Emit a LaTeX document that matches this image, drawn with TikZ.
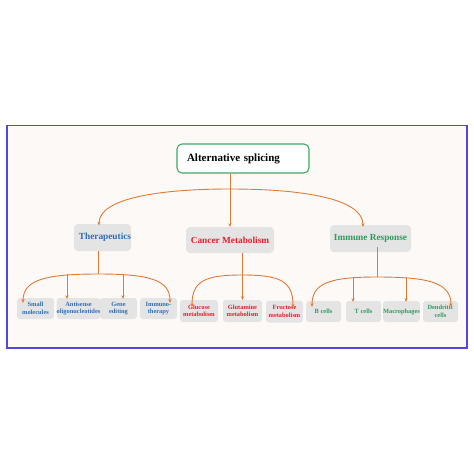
\documentclass[tikz,border=0pt]{standalone}
\usepackage{fontspec}
\setmainfont{Liberation Serif}
\usetikzlibrary{arrows.meta}
\definecolor{frameblue}{HTML}{5548D8}
\definecolor{bgcream}{HTML}{FDF9F7}
\definecolor{arrorange}{HTML}{E07A35}
\definecolor{boxgray}{HTML}{E4E4E4}
\definecolor{rootgreen}{HTML}{3DAA66}
\definecolor{txtblue}{HTML}{2E6DB4}
\definecolor{txtred}{HTML}{E3202B}
\definecolor{txtgreen}{HTML}{2A9D5C}
\tikzset{
  rootbox/.style={draw=rootgreen, line width=1.1pt, fill=white, rounded corners=5pt,
    minimum width=132pt, minimum height=29pt, text width=112pt, align=left,
    inner xsep=10pt, inner ysep=0pt, font=\bfseries\fontsize{11}{13}\selectfont},
  midbox/.style={fill=boxgray, rounded corners=4pt, inner sep=0pt,
    font=\bfseries\fontsize{9.3}{11}\selectfont},
  leafbox/.style={fill=boxgray, rounded corners=3pt, inner sep=0pt,
    minimum height=21pt, align=center,
    font=\bfseries\fontsize{6.4}{7.6}\selectfont},
  conn/.style={draw=arrorange, line width=0.9pt},
  arr/.style={conn, -{Stealth[length=3.5pt,width=3.2pt]}},
}
\begin{document}
\begin{tikzpicture}[x=1pt,y=-1pt]
\useasboundingbox (0,0) rectangle (474,474);
\fill[white] (0,0) rectangle (474,474);
\draw[frameblue, line width=1.6pt, fill=bgcream] (7,125.5) rectangle (467,348);

% root
\node[rootbox] (root) at (243,158.5) {Alternative splicing};

% level 2
\node[midbox, minimum width=57pt, minimum height=27pt, text=txtblue] (th) at (102.5,237.5) {\hspace*{5pt}Therapeutics};
\node[midbox, minimum width=88pt, minimum height=26pt, text=txtred] (cm) at (230,240) {Cancer Metabolism};
\node[midbox, minimum width=81pt, minimum height=27pt, text=txtgreen] (ir) at (370.5,238.5) {Immune Response};

% level 3: therapeutics
\node[leafbox, minimum width=37pt, text=txtblue] (sm) at (35.5,308.5) {Small\\molecules};
\node[leafbox, minimum width=37pt, text=txtblue] (ao) at (78.5,308.5) {Antisense\\oligonucleotides};
\node[leafbox, minimum width=37pt, text=txtblue] (ge) at (118.5,308.5) {Gene\\editing};
\node[leafbox, minimum width=37pt, text=txtblue] (imt) at (158.5,308.5) {Immuno-\\therapy};

% level 3: cancer metabolism
\node[leafbox, minimum width=38pt, minimum height=22pt, text=txtred] (gl) at (199,311) {Glucose\\metabolism};
\node[leafbox, minimum width=39pt, minimum height=22pt, text=txtred] (gn) at (242.5,311) {Glutamine\\metabolism};
\node[leafbox, minimum width=37pt, minimum height=22pt, text=txtred] (fr) at (284.5,311.5) {Fructose\\metabolism};

% level 3: immune response
\node[leafbox, minimum width=35pt, text=txtgreen] (bc) at (323.5,311.5) {B cells};
\node[leafbox, minimum width=35pt, text=txtgreen] (tc) at (363.5,311.5) {T cells};
\node[leafbox, minimum width=35pt, text=txtgreen] (mac) at (401.5,311.5) {Macrophages};
\node[leafbox, minimum width=35pt, text=txtgreen] (dc) at (440.5,311.5) {Dendritic\\cells};

% junctions
\coordinate (j1) at (230,189);
\coordinate (j2) at (98,274);
\coordinate (j3) at (242,275);
\coordinate (j4) at (377,277);

% root -> level 2
\draw[arr] (root.south -| cm.north) -- (cm.north);
\draw[arr] (j1) .. controls (160,189) and (99,198) .. ([xshift=-3.5pt,yshift=-1.5pt]th.north);
\draw[arr] (j1) .. controls (300,189) and (363,198) .. ([xshift=-7.5pt,yshift=-2pt]ir.north);

% therapeutics -> leaves
\draw[conn] (th.south -| j2) -- (j2);
\draw[arr] (j2) .. controls (45,274) and (23,280) .. ([xshift=-12.5pt,yshift=-5pt]sm.north);
\draw[arr] (j2) .. controls (150,274) and (170,280) .. ([xshift=11.5pt,yshift=-5pt]imt.north);
\draw[arr] ([xshift=-11.5pt]ao.north |- j2) -- ([xshift=-11.5pt,yshift=-1pt]ao.north);
\draw[arr] ([xshift=4.5pt]ge.north |- j2) -- ([xshift=4.5pt,yshift=-1pt]ge.north);

% cancer metabolism -> leaves
\draw[arr] (cm.south -| gn.north) -- (gn.north);
\draw[arr] (j3) .. controls (205,275) and (192,281) .. ([xshift=-7pt,yshift=-7pt]gl.north);
\draw[arr] (j3) .. controls (280,275) and (293,281) .. ([xshift=8.5pt,yshift=-7pt]fr.north);

% immune response -> leaves
\draw[conn] ([yshift=5pt]ir.south -| j4) -- (j4);
\draw[arr] (j4) .. controls (330,277) and (312,283) .. ([xshift=-11.5pt,yshift=-6pt]bc.north);
\draw[arr] (j4) .. controls (430,277) and (451,283) .. ([xshift=10.5pt,yshift=-6pt]dc.north);
\draw[arr] ([xshift=-10.5pt]tc.north |- j4) -- ([xshift=-10.5pt,yshift=-1pt]tc.north);
\draw[arr] ([xshift=4.5pt]mac.north |- j4) -- ([xshift=4.5pt,yshift=-1pt]mac.north);
\end{tikzpicture}
\end{document}
